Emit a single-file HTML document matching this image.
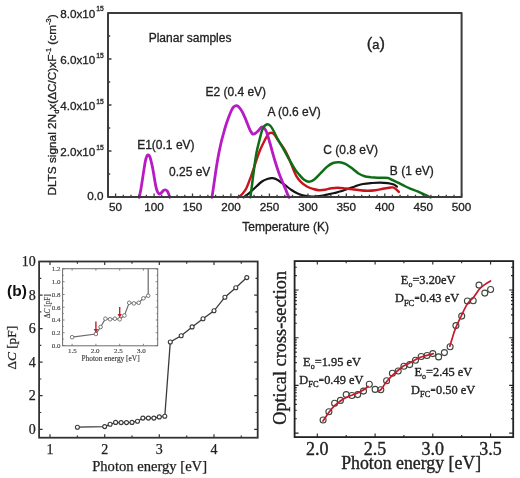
<!DOCTYPE html>
<html><head><meta charset="utf-8"><title>Figure</title>
<style>
html,body{margin:0;padding:0;background:#fff;}
body{width:520px;height:478px;overflow:hidden;}
svg{display:block;}
</style></head><body>
<svg width="520" height="478" viewBox="0 0 520 478">
<rect width="520" height="478" fill="#fff"/>
<g fill="none" stroke-linejoin="round" stroke-linecap="round">
<path d="M243.5,197.3 C244.2,196.8 246.2,195.7 248.0,194.2 C249.8,192.7 251.9,190.6 254.2,188.5 C256.5,186.4 259.7,183.1 262.0,181.5 C264.3,179.9 266.2,179.4 268.0,178.8 C269.8,178.2 271.1,178.0 272.7,178.2 C274.2,178.4 275.8,179.0 277.3,179.8 C278.9,180.6 280.6,182.1 282.0,183.0 C283.4,183.9 283.8,184.2 285.4,185.4 C287.0,186.6 289.4,188.6 291.5,190.0 C293.6,191.4 295.6,192.7 297.7,193.6 C299.8,194.5 301.5,195.1 303.8,195.6 C306.1,196.1 308.9,196.4 311.5,196.5 C314.1,196.6 316.6,196.5 319.2,196.2 C321.8,195.9 324.3,195.1 326.9,194.6 C329.5,194.1 332.3,193.6 334.6,193.0 C336.9,192.4 338.7,192.0 340.8,191.3 C342.9,190.6 345.1,189.8 347.5,189.0 C349.9,188.2 352.8,187.0 355.4,186.2 C358.0,185.4 360.4,184.5 363.0,184.0 C365.6,183.5 368.0,183.3 370.8,183.1 C373.6,182.9 377.2,182.6 380.0,182.6 C382.8,182.6 385.4,182.8 387.7,183.1 C390.0,183.4 392.3,184.0 393.8,184.6 C395.3,185.2 396.4,186.3 396.9,186.6" stroke="#141414" stroke-width="2.2"/>
<path d="M238.0,197.3 C238.7,196.8 240.6,195.8 242.0,194.2 C243.4,192.6 245.0,191.1 246.5,188.0 C248.0,184.9 249.6,180.1 251.2,175.8 C252.8,171.5 254.4,166.1 255.8,162.0 C257.2,157.9 258.3,154.4 259.6,151.2 C260.9,148.0 262.1,145.5 263.5,142.7 C264.9,139.9 266.7,136.2 268.0,134.5 C269.3,132.8 270.2,132.8 271.2,132.8 C272.2,132.8 273.0,133.2 274.2,134.5 C275.4,135.8 276.8,138.3 278.5,140.8 C280.2,143.3 282.9,146.9 284.6,149.6 C286.3,152.3 287.3,154.5 288.5,157.2 C289.7,159.9 290.7,162.9 292.0,166.0 C293.3,169.1 294.7,173.2 296.2,175.8 C297.7,178.4 299.0,180.0 300.8,181.8 C302.6,183.6 304.9,185.3 306.9,186.5 C308.9,187.7 310.9,188.3 313.0,188.9 C315.1,189.5 317.1,190.1 319.2,190.2 C321.3,190.3 323.3,190.0 325.4,189.7 C327.4,189.4 329.4,188.5 331.5,188.2 C333.6,187.9 335.6,187.7 337.7,187.7 C339.8,187.7 341.4,187.9 343.8,188.2 C346.2,188.4 349.6,188.8 352.3,189.2 C355.0,189.5 357.4,190.0 360.0,190.3 C362.6,190.6 365.1,190.8 367.7,190.8 C370.3,190.8 372.8,190.6 375.4,190.3 C377.9,190.0 380.4,189.3 383.0,188.8 C385.6,188.3 389.0,187.7 390.8,187.5 C392.6,187.3 392.9,187.3 393.8,187.7 C394.8,188.0 395.7,188.9 396.5,189.6 C397.3,190.3 398.4,191.5 398.8,191.9" stroke="#c8141c" stroke-width="2.4"/>
<path d="M139.2,197.3 C139.5,196.1 140.3,192.6 140.8,189.8 C141.3,187.0 141.8,183.7 142.3,180.4 C142.8,177.1 143.4,173.2 143.9,169.9 C144.4,166.6 145.0,162.8 145.5,160.5 C146.0,158.2 146.6,156.7 147.0,155.8 C147.4,154.9 147.7,154.8 148.1,154.9 C148.5,155.0 149.2,155.2 149.7,156.3 C150.2,157.4 150.7,159.4 151.2,161.5 C151.7,163.6 152.3,166.0 152.8,168.8 C153.3,171.6 153.9,175.3 154.4,178.3 C154.9,181.3 155.4,184.3 155.9,186.6 C156.4,188.9 156.9,190.7 157.5,191.9 C158.1,193.1 158.9,193.9 159.6,194.0 C160.3,194.1 161.0,193.0 161.7,192.4 C162.4,191.8 163.1,190.7 163.8,190.3 C164.5,189.9 165.3,189.8 165.9,190.0 C166.5,190.2 167.0,190.7 167.5,191.4 C168.0,192.1 168.3,193.0 168.7,194.0 C169.1,195.0 169.6,196.8 169.8,197.3" stroke="#b81ac4" stroke-width="2.8"/>
<path d="M211.9,197.3 C212.2,195.7 212.8,191.9 213.4,187.9 C214.0,183.9 214.8,177.8 215.5,173.2 C216.2,168.5 216.9,163.9 217.6,160.0 C218.3,156.1 218.8,153.2 219.5,150.0 C220.2,146.8 220.8,143.8 221.5,141.0 C222.2,138.2 222.8,136.1 223.5,133.5 C224.2,130.9 225.0,128.0 225.8,125.5 C226.6,123.0 227.3,121.0 228.2,118.6 C229.1,116.1 230.4,112.8 231.3,110.8 C232.2,108.8 232.9,107.7 233.8,106.8 C234.7,105.9 235.6,105.4 236.6,105.6 C237.6,105.8 238.6,106.6 239.6,107.8 C240.6,109.0 241.7,110.6 242.7,112.6 C243.7,114.6 244.5,116.6 245.8,119.6 C247.1,122.6 249.1,128.4 250.4,130.8 C251.7,133.2 252.2,134.2 253.5,134.2 C254.8,134.2 256.7,132.2 258.1,131.0 C259.5,129.8 260.6,126.9 261.9,126.8 C263.2,126.7 264.5,127.9 265.8,130.4 C267.1,132.9 268.5,138.2 269.6,142.0 C270.8,145.8 271.8,149.8 272.7,153.0 C273.6,156.2 274.0,157.7 275.0,161.0 C276.0,164.3 277.5,169.1 278.8,172.7 C280.1,176.3 281.6,179.8 282.7,182.5 C283.8,185.2 284.7,187.0 285.5,189.0 C286.3,191.0 287.1,193.2 287.7,194.6 C288.3,196.0 288.9,196.9 289.2,197.3" stroke="#b81ac4" stroke-width="2.8"/>
<path d="M250.4,197.3 C250.7,195.2 251.4,189.9 252.0,185.0 C252.6,180.1 253.4,173.4 254.2,168.0 C254.9,162.6 255.6,157.4 256.5,152.7 C257.4,148.0 258.6,143.6 259.6,139.6 C260.6,135.6 261.6,131.3 262.7,128.8 C263.8,126.3 265.2,125.0 266.5,124.5 C267.8,124.0 269.1,124.7 270.2,125.6 C271.3,126.5 271.9,127.7 273.1,130.0 C274.4,132.3 276.2,136.4 277.7,139.2 C279.2,142.0 280.8,144.2 282.3,146.9 C283.8,149.6 285.4,152.6 286.9,155.4 C288.4,158.2 290.1,161.1 291.5,163.5 C292.9,165.9 294.1,168.2 295.4,170.0 C296.7,171.8 297.8,173.0 299.2,174.6 C300.6,176.2 302.1,178.3 303.8,179.5 C305.5,180.7 307.4,181.9 309.2,181.8 C311.0,181.8 312.7,180.7 314.6,179.2 C316.5,177.7 318.8,175.1 320.8,173.0 C322.9,170.9 324.9,168.6 326.9,166.9 C328.9,165.2 330.9,163.8 333.0,163.0 C335.1,162.2 337.1,162.1 339.2,162.2 C341.3,162.3 343.2,162.8 345.4,163.8 C347.6,164.9 350.1,166.9 352.3,168.5 C354.5,170.1 356.4,172.2 358.5,173.5 C360.6,174.8 362.6,175.6 364.6,176.2 C366.7,176.8 368.7,176.9 370.8,177.2 C372.9,177.4 375.0,177.6 377.0,177.7 C379.0,177.8 381.2,177.6 383.0,177.7 C384.8,177.8 386.4,177.6 388.0,178.0 C389.6,178.4 390.5,179.2 392.3,180.0 C394.1,180.8 396.6,181.8 398.6,182.8 C400.7,183.8 402.6,185.0 404.6,186.0 C406.6,187.0 408.7,187.9 410.8,188.8 C412.9,189.7 415.1,190.4 417.0,191.2 C418.9,192.0 420.5,192.8 422.0,193.5 C423.5,194.2 424.6,194.6 426.0,195.2 C427.4,195.8 429.8,197.0 430.6,197.3" stroke="#0e6e16" stroke-width="2.5"/>
</g>
<rect x="108" y="13" width="353.6" height="184" fill="none" stroke="#3c3c3c" stroke-width="2" stroke-linejoin="round"/>
<path d="M115.6,197V193.5 M123.3,197V194.8 M131.0,197V194.8 M138.7,197V194.8 M146.4,197V194.8 M154.1,197V193.5 M161.7,197V194.8 M169.4,197V194.8 M177.1,197V194.8 M184.8,197V194.8 M192.5,197V193.5 M200.2,197V194.8 M207.9,197V194.8 M215.6,197V194.8 M223.3,197V194.8 M230.9,197V193.5 M238.6,197V194.8 M246.3,197V194.8 M254.0,197V194.8 M261.7,197V194.8 M269.4,197V193.5 M277.1,197V194.8 M284.8,197V194.8 M292.5,197V194.8 M300.2,197V194.8 M307.9,197V193.5 M315.5,197V194.8 M323.2,197V194.8 M330.9,197V194.8 M338.6,197V194.8 M346.3,197V193.5 M354.0,197V194.8 M361.7,197V194.8 M369.4,197V194.8 M377.1,197V194.8 M384.8,197V193.5 M392.4,197V194.8 M400.1,197V194.8 M407.8,197V194.8 M415.5,197V194.8 M423.2,197V193.5 M430.9,197V194.8 M438.6,197V194.8 M446.3,197V194.8 M454.0,197V194.8 M461.6,197V193.5 M108,197.0H111.5 M108,174.0H110.2 M108,151.0H111.5 M108,128.0H110.2 M108,105.0H111.5 M108,82.0H110.2 M108,59.0H111.5 M108,36.0H110.2 M108,13.0H111.5" stroke="#3c3c3c" stroke-width="1.3" fill="none"/>
<g font-family="'Liberation Sans', Arial, sans-serif" font-size="11.7" fill="#222" stroke="#222" stroke-width="0.3">
<g text-anchor="middle">
<text x="115.6" y="210.9">50</text>
<text x="154.1" y="210.9">100</text>
<text x="192.5" y="210.9">150</text>
<text x="230.9" y="210.9">200</text>
<text x="269.4" y="210.9">250</text>
<text x="307.9" y="210.9">300</text>
<text x="346.3" y="210.9">350</text>
<text x="384.8" y="210.9">400</text>
<text x="423.2" y="210.9">450</text>
<text x="461.6" y="210.9">500</text>
</g>
<text x="103.6" y="199.5" text-anchor="end">0.0</text>
<text x="60.2" y="156.4">2.0x10<tspan font-size="6.8" dx="1" dy="-6.2">15</tspan></text>
<text x="60.2" y="109.9">4.0x10<tspan font-size="6.8" dx="1" dy="-6.2">15</tspan></text>
<text x="60.2" y="64.1">6.0x10<tspan font-size="6.8" dx="1" dy="-6.2">15</tspan></text>
<text x="60.2" y="17.5">8.0x10<tspan font-size="6.8" dx="1" dy="-6.2">15</tspan></text>
<text x="242.3" y="231.1" font-size="12">Temperature (K)</text>
<text transform="translate(55.6,195.6) rotate(-90)" font-size="11.8">DLTS signal 2N<tspan font-size="7.5" dy="3">d</tspan><tspan dy="-3">x(ΔC/C)xF</tspan><tspan font-size="7.5" dy="-5">-1</tspan><tspan dy="5"> (cm</tspan><tspan font-size="7.5" dy="-5">-3</tspan><tspan dy="5">)</tspan></text>
<g font-size="12">
<text x="148.7" y="41.9">Planar samples</text>
<text x="137.2" y="148.8">E1(0.1 eV)</text>
<text x="169" y="176">0.25 eV</text>
<text x="205.4" y="96.4">E2 (0.4 eV)</text>
<text x="267.4" y="115.9">A (0.6 eV)</text>
<text x="323.3" y="153.9">C (0.8 eV)</text>
<text x="389.8" y="174.6">B (1 eV)</text>
</g>
</g>
<text x="366.8" y="49" font-family="'Liberation Sans', Arial, sans-serif" font-size="12.8" fill="#222" stroke="#222" stroke-width="0.35"><tspan font-size="16.5">(</tspan>a<tspan font-size="16.5">)</tspan></text>
<path d="M77.4,427.2 L104.7,426.6 L110.1,424.3 L115.6,422.4 L121.1,422.6 L126.5,422.6 L132.0,422.4 L137.5,421.2 L142.9,418.1 L148.4,418.1 L153.9,418.1 L159.3,416.9 L164.8,416.2 L170.3,342.0 L181.2,335.7 L192.1,326.9 L203.0,318.7 L214.0,310.8 L224.9,297.2 L235.8,287.8 L246.8,277.6" fill="none" stroke="#3a3a3a" stroke-width="1.3"/>
<g fill="#fff" stroke="#3a3a3a" stroke-width="1.1">
<circle cx="77.4" cy="427.2" r="2"/>
<circle cx="104.7" cy="426.6" r="2"/>
<circle cx="110.1" cy="424.3" r="2"/>
<circle cx="115.6" cy="422.4" r="2"/>
<circle cx="121.1" cy="422.6" r="2"/>
<circle cx="126.5" cy="422.6" r="2"/>
<circle cx="132.0" cy="422.4" r="2"/>
<circle cx="137.5" cy="421.2" r="2"/>
<circle cx="142.9" cy="418.1" r="2"/>
<circle cx="148.4" cy="418.1" r="2"/>
<circle cx="153.9" cy="418.1" r="2"/>
<circle cx="159.3" cy="416.9" r="2"/>
<circle cx="164.8" cy="416.2" r="2"/>
<circle cx="170.3" cy="342.0" r="2"/>
<circle cx="181.2" cy="335.7" r="2"/>
<circle cx="192.1" cy="326.9" r="2"/>
<circle cx="203.0" cy="318.7" r="2"/>
<circle cx="214.0" cy="310.8" r="2"/>
<circle cx="224.9" cy="297.2" r="2"/>
<circle cx="235.8" cy="287.8" r="2"/>
<circle cx="246.8" cy="277.6" r="2"/>
</g>
<rect x="39.1" y="261.5" width="218.6" height="176.2" fill="none" stroke="#333" stroke-width="1.8"/>
<path d="M50.0,437.7V434.2 M50.0,261.5V265.0 M77.4,437.7V435.5 M77.4,261.5V263.7 M104.7,437.7V434.2 M104.7,261.5V265.0 M132.0,437.7V435.5 M132.0,261.5V263.7 M159.3,437.7V434.2 M159.3,261.5V265.0 M186.7,437.7V435.5 M186.7,261.5V263.7 M214.0,437.7V434.2 M214.0,261.5V265.0 M241.3,437.7V435.5 M241.3,261.5V263.7 M39.1,429.3H42.6 M257.7,429.3H254.2 M39.1,412.5H41.3 M257.7,412.5H255.5 M39.1,395.7H42.6 M257.7,395.7H254.2 M39.1,379.0H41.3 M257.7,379.0H255.5 M39.1,362.2H42.6 M257.7,362.2H254.2 M39.1,345.4H41.3 M257.7,345.4H255.5 M39.1,328.6H42.6 M257.7,328.6H254.2 M39.1,311.8H41.3 M257.7,311.8H255.5 M39.1,295.1H42.6 M257.7,295.1H254.2 M39.1,278.3H41.3 M257.7,278.3H255.5 M39.1,261.5H42.6 M257.7,261.5H254.2" stroke="#333" stroke-width="1.2" fill="none"/>
<g font-family="'Liberation Serif', 'Times New Roman', serif" font-size="14" fill="#222" stroke="#222" stroke-width="0.25">
<g text-anchor="end">
<text x="35.8" y="433.9">0</text>
<text x="35.8" y="400.3">2</text>
<text x="35.8" y="366.8">4</text>
<text x="35.8" y="333.2">6</text>
<text x="35.8" y="299.7">8</text>
<text x="35.8" y="266.1">10</text>
</g><g text-anchor="middle">
<text x="50.0" y="453.9">1</text>
<text x="104.7" y="453.9">2</text>
<text x="159.3" y="453.9">3</text>
<text x="214.0" y="453.9">4</text>
</g>
<text x="92.2" y="470.5" font-size="14.6">Photon energy [eV]</text>
<text transform="translate(16,369.6) rotate(-90)" font-size="13.3">Δ<tspan font-style="italic">C</tspan> [pF]</text>
</g>
<text x="7" y="296" font-family="'Liberation Sans', Arial, sans-serif" font-size="15.5" font-weight="bold" fill="#111">(b)</text>
<rect x="62.6" y="268.7" width="95.1" height="77.1" fill="#fff" stroke="#6a6a6a" stroke-width="1"/>
<path d="M72.1,337.2 L95.9,334.0 L100.6,327.0 L105.4,318.7 L110.1,319.3 L114.9,318.7 L119.7,319.3 L124.4,315.5 L129.2,302.8 L133.9,303.4 L138.7,302.8 L143.4,298.3 L148.2,295.7 L148.2,268.7" fill="none" stroke="#6a6a6a" stroke-width="1.2"/>
<g fill="#fff" stroke="#6a6a6a" stroke-width="0.9">
<circle cx="72.1" cy="337.2" r="1.8"/>
<circle cx="95.9" cy="334.0" r="1.8"/>
<circle cx="100.6" cy="327.0" r="1.8"/>
<circle cx="105.4" cy="318.7" r="1.8"/>
<circle cx="110.1" cy="319.3" r="1.8"/>
<circle cx="114.9" cy="318.7" r="1.8"/>
<circle cx="119.7" cy="319.3" r="1.8"/>
<circle cx="124.4" cy="315.5" r="1.8"/>
<circle cx="129.2" cy="302.8" r="1.8"/>
<circle cx="133.9" cy="303.4" r="1.8"/>
<circle cx="138.7" cy="302.8" r="1.8"/>
<circle cx="143.4" cy="298.3" r="1.8"/>
<circle cx="148.2" cy="295.7" r="1.8"/>
</g>
<path d="M95.9,321.5V330.0" stroke="#c0202a" stroke-width="1.4"/>
<path d="M93.7,329.0L98.1,329.0L95.9,333.0Z" fill="#c0202a"/>
<path d="M119.7,307.0V315.0" stroke="#c0202a" stroke-width="1.4"/>
<path d="M117.5,314.0L121.9,314.0L119.7,318.0Z" fill="#c0202a"/>
<path d="M72.1,345.8V343.8 M72.1,268.7V270.7 M95.9,345.8V343.8 M95.9,268.7V270.7 M119.7,345.8V343.8 M119.7,268.7V270.7 M143.4,345.8V343.8 M143.4,268.7V270.7 M62.6,345.5H64.6 M157.7,345.5H155.7 M62.6,339.1H63.8 M157.7,339.1H156.5 M62.6,332.7H64.6 M157.7,332.7H155.7 M62.6,326.4H63.8 M157.7,326.4H156.5 M62.6,320.0H64.6 M157.7,320.0H155.7 M62.6,313.6H63.8 M157.7,313.6H156.5 M62.6,307.2H64.6 M157.7,307.2H155.7 M62.6,300.8H63.8 M157.7,300.8H156.5 M62.6,294.5H64.6 M157.7,294.5H155.7 M62.6,288.1H63.8 M157.7,288.1H156.5 M62.6,281.7H64.6 M157.7,281.7H155.7 M62.6,275.3H63.8 M157.7,275.3H156.5 M62.6,268.9H64.6 M157.7,268.9H155.7" stroke="#6a6a6a" stroke-width="0.8" fill="none"/>
<g font-family="'Liberation Serif', 'Times New Roman', serif" font-size="7" fill="#444" stroke="#444" stroke-width="0.15">
<g text-anchor="end">
<text x="60.5" y="347.9">0.0</text>
<text x="60.5" y="335.1">0.2</text>
<text x="60.5" y="322.4">0.4</text>
<text x="60.5" y="309.6">0.6</text>
<text x="60.5" y="296.9">0.8</text>
<text x="60.5" y="284.1">1.0</text>
<text x="60.5" y="271.3">1.2</text>
</g><g text-anchor="middle">
<text x="72.4" y="352.6">1.5</text>
<text x="95.1" y="352.6">2.0</text>
<text x="118.3" y="352.6">2.5</text>
<text x="141.3" y="352.6">3.0</text>
</g>
<text x="81.5" y="361" font-size="7.4">Photon energy [eV]</text>
<text transform="translate(50.4,318.2) rotate(-90)" font-size="7.3">Δ<tspan font-style="italic">C</tspan> [pF]</text>
</g>
<g fill="none" stroke="#3c463e" stroke-width="1.1">
<circle cx="323.1" cy="420.0" r="3"/>
<circle cx="328.9" cy="411.7" r="3"/>
<circle cx="334.6" cy="403.3" r="3"/>
<circle cx="340.4" cy="400.4" r="3"/>
<circle cx="346.2" cy="394.6" r="3"/>
<circle cx="351.9" cy="395.5" r="3"/>
<circle cx="357.7" cy="394.6" r="3"/>
<circle cx="363.5" cy="391.1" r="3"/>
<circle cx="369.3" cy="384.2" r="3"/>
<circle cx="375.1" cy="389.4" r="3"/>
<circle cx="380.8" cy="389.8" r="3"/>
<circle cx="386.6" cy="380.8" r="3"/>
<circle cx="392.4" cy="373.3" r="3"/>
<circle cx="398.2" cy="371.0" r="3"/>
<circle cx="403.9" cy="366.3" r="3"/>
<circle cx="409.7" cy="364.6" r="3"/>
<circle cx="415.5" cy="360.2" r="3"/>
<circle cx="421.2" cy="356.5" r="3"/>
<circle cx="427.0" cy="355.5" r="3"/>
<circle cx="432.8" cy="353.6" r="3"/>
<circle cx="438.6" cy="356.9" r="3"/>
<circle cx="444.4" cy="352.6" r="3"/>
<circle cx="450.1" cy="346.8" r="3"/>
<circle cx="455.9" cy="325.6" r="3"/>
<circle cx="461.7" cy="316.1" r="3"/>
<circle cx="467.4" cy="301.0" r="3"/>
<circle cx="473.2" cy="300.7" r="3"/>
<circle cx="479.0" cy="285.1" r="3"/>
<circle cx="484.8" cy="293.1" r="3"/>
<circle cx="490.6" cy="289.5" r="3"/>
</g>
<g fill="none" stroke="#c41a2c" stroke-width="1.7" stroke-linecap="round">
<path d="M323.0,421.0 C324.0,419.6 326.9,415.1 328.8,412.5 C330.7,409.9 332.7,407.5 334.6,405.6 C336.5,403.7 338.5,402.4 340.4,401.0 C342.3,399.6 344.2,398.5 346.1,397.5 C348.0,396.5 350.0,396.0 351.9,395.2 C353.8,394.4 355.8,393.8 357.7,392.9 C359.6,392.0 361.7,391.1 363.4,390.0 C365.1,388.9 367.2,387.1 368.0,386.5"/>
<path d="M378.5,391.2 C378.9,390.9 379.8,390.9 381.1,389.4 C382.4,387.9 384.5,384.3 386.3,382.0 C388.1,379.7 390.3,377.4 392.1,375.6 C393.9,373.8 395.5,372.6 397.3,371.0 C399.1,369.4 401.1,367.6 403.0,366.3 C404.9,365.1 406.9,364.5 408.8,363.5 C410.7,362.5 412.7,361.2 414.6,360.2 C416.5,359.1 418.3,358.0 420.4,357.2 C422.4,356.4 424.8,356.0 426.9,355.4 C429.0,354.8 432.2,353.9 433.3,353.6"/>
<path d="M449.8,346.2 C450.1,345.2 450.8,342.9 451.7,340.0 C452.6,337.1 453.8,332.6 455.4,328.6 C457.0,324.6 459.2,320.1 461.2,316.1 C463.1,312.1 465.0,307.6 467.1,304.4 C469.2,301.2 471.6,299.7 473.7,297.1 C475.8,294.5 477.7,291.1 479.5,289.0 C481.3,286.9 482.9,285.9 484.7,284.6 C486.5,283.3 489.5,281.6 490.5,281.0"/>
</g>
<rect x="294.6" y="261.1" width="218.6" height="176" fill="none" stroke="#222" stroke-width="1.8"/>
<path d="M317.3,437.1V433.6 M317.3,261.1V264.6 M346.2,437.1V434.9 M346.2,261.1V263.3 M375.1,437.1V433.6 M375.1,261.1V264.6 M403.9,437.1V434.9 M403.9,261.1V263.3 M432.8,437.1V433.6 M432.8,261.1V264.6 M461.7,437.1V434.9 M461.7,261.1V263.3 M490.6,437.1V433.6 M490.6,261.1V264.6 M294.6,290.0H298.6 M513.2,290.0H509.2 M294.6,275.6H296.8 M513.2,275.6H511.0 M294.6,267.2H296.8 M513.2,267.2H511.0 M294.6,337.7H298.6 M513.2,337.7H509.2 M294.6,323.3H296.8 M513.2,323.3H511.0 M294.6,314.9H296.8 M513.2,314.9H511.0 M294.6,309.0H296.8 M513.2,309.0H511.0 M294.6,304.4H296.8 M513.2,304.4H511.0 M294.6,300.6H296.8 M513.2,300.6H511.0 M294.6,297.4H296.8 M513.2,297.4H511.0 M294.6,294.6H296.8 M513.2,294.6H511.0 M294.6,292.2H296.8 M513.2,292.2H511.0 M294.6,385.4H298.6 M513.2,385.4H509.2 M294.6,371.0H296.8 M513.2,371.0H511.0 M294.6,362.6H296.8 M513.2,362.6H511.0 M294.6,356.7H296.8 M513.2,356.7H511.0 M294.6,352.1H296.8 M513.2,352.1H511.0 M294.6,348.3H296.8 M513.2,348.3H511.0 M294.6,345.1H296.8 M513.2,345.1H511.0 M294.6,342.3H296.8 M513.2,342.3H511.0 M294.6,339.9H296.8 M513.2,339.9H511.0 M294.6,433.1H298.6 M513.2,433.1H509.2 M294.6,418.7H296.8 M513.2,418.7H511.0 M294.6,410.3H296.8 M513.2,410.3H511.0 M294.6,404.4H296.8 M513.2,404.4H511.0 M294.6,399.8H296.8 M513.2,399.8H511.0 M294.6,396.0H296.8 M513.2,396.0H511.0 M294.6,392.8H296.8 M513.2,392.8H511.0 M294.6,390.0H296.8 M513.2,390.0H511.0 M294.6,387.6H296.8 M513.2,387.6H511.0" stroke="#222" stroke-width="1.1" fill="none"/>
<g font-family="'Liberation Serif', 'Times New Roman', serif" fill="#222" stroke="#222" stroke-width="0.35">
<g text-anchor="middle" font-size="18">
<text x="317.3" y="455.3">2.0</text>
<text x="375.1" y="455.3">2.5</text>
<text x="432.8" y="455.3">3.0</text>
<text x="490.6" y="455.3">3.5</text>
</g>
<text x="341.2" y="469.3" font-size="17.8">Photon energy [eV]</text>
<text transform="translate(286,424.8) rotate(-90)" font-size="18.3">Optical cross-section</text>
<g font-size="12.4">
<text x="303.1" y="366.1">E<tspan font-size="8" dy="3">o</tspan><tspan dy="-3">=1.95 eV</tspan></text>
<text x="299.3" y="383.8">D<tspan font-size="8.4" dy="3.6">FC</tspan><tspan font-size="9" dy="-4.3" dx="0.3">=</tspan><tspan dy="0.7" dx="0.3">0.49 eV</tspan></text>
<text x="414.4" y="375.9">E<tspan font-size="8" dy="3">o</tspan><tspan dy="-3">=2.45 eV</tspan></text>
<text x="411.1" y="393.6">D<tspan font-size="8.4" dy="3.6">FC</tspan><tspan font-size="9" dy="-4.3" dx="0.3">=</tspan><tspan dy="0.7" dx="0.3">0.50 eV</tspan></text>
<text x="400.8" y="284.2">E<tspan font-size="8" dy="3">o</tspan><tspan dy="-3">=3.20eV</tspan></text>
<text x="395.0" y="301.9">D<tspan font-size="8.4" dy="3.6">FC</tspan><tspan font-size="9" dy="-4.3" dx="0.3">=</tspan><tspan dy="0.7" dx="0.3">0.43 eV</tspan></text>
</g></g>
</svg>
</body></html>
